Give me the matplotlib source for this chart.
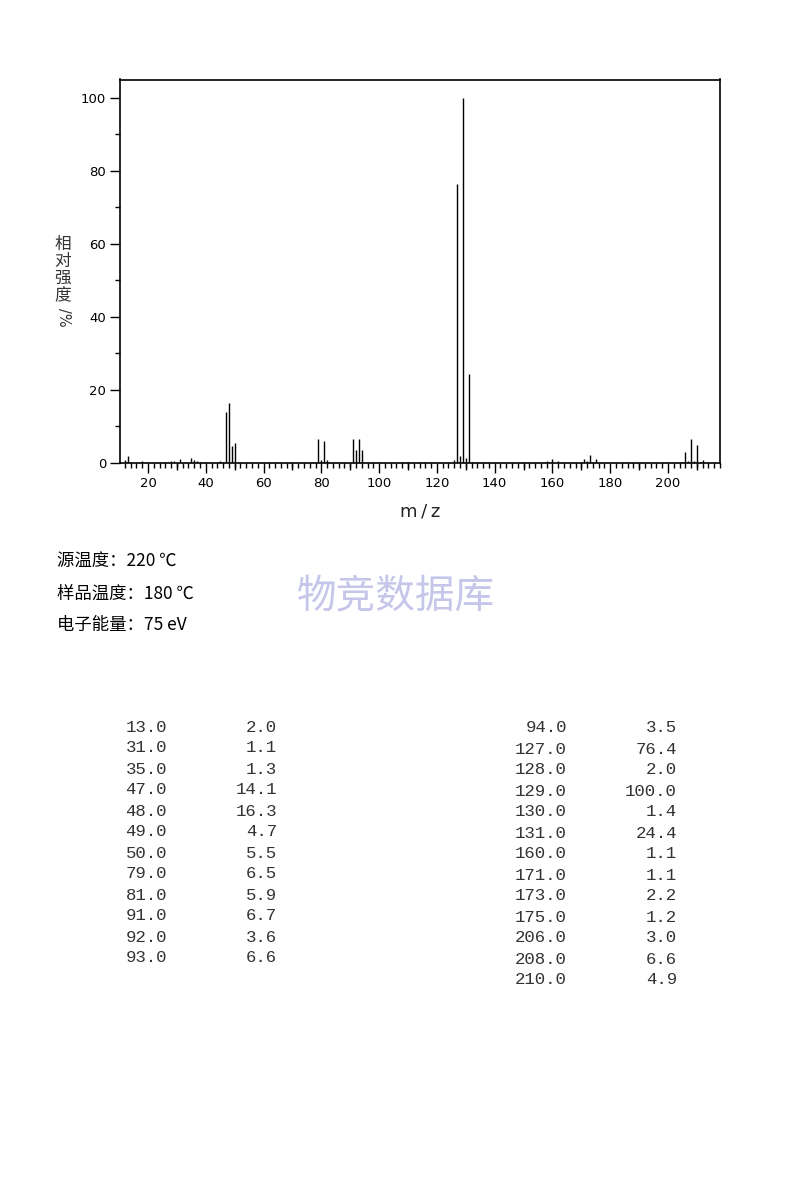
import numpy as np
import matplotlib
matplotlib.use('Agg')
import matplotlib.pyplot as plt
from matplotlib.ticker import MultipleLocator, FixedLocator, NullFormatter

plt.rcParams['font.family'] = ['DejaVu Sans', 'Noto Sans CJK SC']

# peaks (m/z, relative intensity %)
mz = [12, 13, 14, 18, 26, 27, 28, 29, 31, 35, 36, 37, 38, 44, 45, 46, 47, 48, 49, 50,
      79, 80, 81, 82, 91, 92, 93, 94, 108, 110, 114, 116, 126, 127, 128, 129, 130, 131, 132,
      158, 160, 162, 170, 171, 172, 173, 174, 175, 205, 206, 207, 208, 209, 210, 211, 212]
intensity = [0.8, 2.0, 0.4, 0.5, 0.3, 0.4, 0.5, 0.5, 1.1, 1.3, 0.8, 0.6, 0.4, 0.3, 0.5, 0.4, 14.1, 16.3, 4.7, 5.5,
             6.5, 0.8, 5.9, 0.8, 6.7, 3.6, 6.6, 3.5, 0.3, 0.3, 0.3, 0.3, 0.8, 76.4, 2.0, 100.0, 1.4, 24.4, 0.4,
             0.5, 1.1, 0.5, 0.3, 1.1, 0.5, 2.2, 0.3, 1.2, 0.4, 3.0, 0.5, 6.6, 0.5, 4.9, 0.4, 0.8]

info_lines = ['源温度：220 ℃', '样品温度：180 ℃', '电子能量：75 eV']
watermark = '物竞数据库'

# peak table: everything >= 1 %
table = [(m, v) for m, v in zip(mz, intensity) if v >= 1.0]
left_rows = table[:12]
right_rows = table[12:]

W, H = 794, 1191
fig = plt.figure(figsize=(W / 100, H / 100), dpi=100)

# axes box in pixels: left 120, right 720, top 79.5, bottom 463
ax = fig.add_axes([120 / W, (H - 463) / H, 600 / W, 383.5 / H])
ax.vlines(mz, 0, intensity, color='black', lw=1.0)
ax.set_xlim(10.3, 218)
ax.set_ylim(0, 105)

for s in ax.spines.values():
    s.set_linewidth(1.2)

ax.xaxis.set_major_locator(MultipleLocator(20))
ax.xaxis.set_minor_locator(MultipleLocator(2))
ax.yaxis.set_major_locator(MultipleLocator(20))
ax.yaxis.set_minor_locator(MultipleLocator(10))
ax.tick_params(axis='both', which='major', direction='out', length=7, width=1, labelsize=9.5, pad=3)
ax.tick_params(axis='x', which='minor', direction='out', length=3.5, width=1)
ax.tick_params(axis='y', which='minor', direction='out', length=3.5, width=1)

# medium ticks at odd tens
sec = ax.secondary_xaxis('bottom')
sec.xaxis.set_major_locator(FixedLocator(np.arange(10, 220, 20)))
sec.xaxis.set_major_formatter(NullFormatter())
sec.tick_params(direction='out', length=5, width=1)
sec.spines['bottom'].set_visible(False)

ax.set_xlabel('m\u2009/\u2009z', fontsize=13, labelpad=9, color='#222222')

# stacked vertical y label
fig.text(63 / W, 1 - 270 / H, '相\n对\n强\n度', ha='center', va='center', fontsize=12,
         linespacing=1.02, color='#333333', family=['Noto Sans CJK SC', 'DejaVu Sans'])
fig.text(64 / W, 1 - 317 / H, '/%', ha='center', va='center', fontsize=10.5,
         rotation=270, color='#333333')

# acquisition info
for i, line in enumerate(info_lines):
    fig.text(57 / W, 1 - (562 + i * 31.5) / H, line, ha='left', va='center', fontsize=12.5,
             family=['Noto Sans CJK SC', 'DejaVu Sans'])

fig.text(396 / W, 1 - 596 / H, watermark, ha='center', va='center', fontsize=28.5,
         color='#c6c6ea', family=['Noto Sans CJK SC', 'DejaVu Sans'])

# peak table
def draw_rows(rows, x_mz, x_val, y0):
    for k, (m, v) in enumerate(rows):
        y = 1 - (y0 + k * 21) / H
        fig.text(x_mz / W, y, '%.1f' % m, ha='right', va='center', fontsize=12.5,
                 family='Liberation Mono', color='#333333')
        fig.text(x_val / W, y, '%.1f' % v, ha='right', va='center', fontsize=12.5,
                 family='Liberation Mono', color='#333333')

draw_rows(left_rows, 167, 277, 727)
draw_rows(right_rows, 567, 677, 728)

fig.savefig('out.png', dpi=100)
